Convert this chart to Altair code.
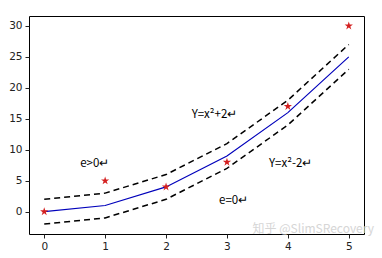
import altair as alt
import pandas as pd

x_vals = [0, 1, 2, 3, 4, 5]
y_fit = [0, 1, 4, 9, 16, 25]
y_upper = [2, 3, 6, 11, 18, 27]
y_lower = [-2, -1, 2, 7, 14, 23]
obs_x = [0, 1, 2, 3, 4, 5]
obs_y = [0, 5, 4, 8, 17, 30]

ann_text = ["Y=x²+2↵", "e>0↵", "Y=x²-2↵", "e=0↵"]
ann_x = [2.42, 0.59, 3.69, 2.87]
ann_y = [15.2, 7.2, 7.2, 1.2]

lines = pd.DataFrame({"x": x_vals, "fit": y_fit, "upper": y_upper, "lower": y_lower})
obs = pd.DataFrame({"x": obs_x, "y": obs_y})
ann = pd.DataFrame({"t": ann_text, "x": ann_x, "y": ann_y})

xs = alt.Scale(domain=[-0.25, 5.25], nice=False, zero=False)
ys = alt.Scale(domain=[-3.6, 31.6], nice=False, zero=False)
xax = alt.Axis(values=[0, 1, 2, 3, 4, 5], format="d", title=None, grid=False,
               tickSize=4, labelPadding=3, domain=False)
yax = alt.Axis(values=[0, 5, 10, 15, 20, 25, 30], format="d", title=None, grid=False,
               tickSize=4, labelPadding=3, domain=False)

base = alt.Chart(lines)
X = alt.X("x:Q", scale=xs, axis=xax)

upper = base.mark_line(color="black", strokeDash=[6, 4], strokeWidth=1.5).encode(
    x=X, y=alt.Y("upper:Q", scale=ys, axis=yax))
lower = base.mark_line(color="black", strokeDash=[6, 4], strokeWidth=1.5).encode(
    x=X, y=alt.Y("lower:Q", scale=ys, axis=yax))
fit = base.mark_line(color="#0000bb", strokeWidth=1.2).encode(
    x=X, y=alt.Y("fit:Q", scale=ys, axis=yax))

star = "M0,-1L0.224,-0.309L0.951,-0.309L0.363,0.118L0.588,0.809L0,0.382L-0.588,0.809L-0.363,0.118L-0.951,-0.309L-0.224,-0.309Z"
pts = alt.Chart(obs).mark_point(shape=star, filled=True, color="#d42020", size=75, opacity=1).encode(
    x=alt.X("x:Q", scale=xs, axis=xax), y=alt.Y("y:Q", scale=ys, axis=yax))

txt = alt.Chart(ann).mark_text(align="left", baseline="alphabetic", fontSize=11.5,
                               font="Noto Sans CJK SC", color="black").encode(
    x=alt.X("x:Q", scale=xs, axis=xax), y=alt.Y("y:Q", scale=ys, axis=yax), text="t:N")

wm = alt.Chart(pd.DataFrame({"t": ["知乎 @SlimSRecovery"]})).mark_text(
    align="right", baseline="middle", fontSize=12, font="Noto Sans CJK SC",
    color="#cfcfcf", opacity=0.85).encode(
    x=alt.value(345), y=alt.value(213), text="t:N")

chart = alt.layer(upper, lower, fit, pts, txt, wm).properties(
    width=335, height=218,
    autosize=alt.AutoSizeParams(type="none"),
    padding={"left": 29, "top": 16, "right": 18, "bottom": 24},
).configure_view(stroke="black", strokeWidth=1).configure_axis(
    labelFont="DejaVu Sans", labelFontSize=10.5, labelColor="#222222",
    tickColor="#222222")

chart.save("out.html", embed_options={"renderer": "svg", "actions": False})
